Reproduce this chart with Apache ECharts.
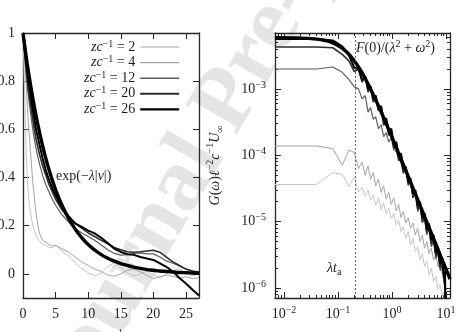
<!DOCTYPE html>
<html>
<head>
<meta charset="utf-8">
<script src="https://cdn.jsdelivr.net/npm/echarts@6/dist/echarts.min.js"></script>
<style>
  html, body { margin: 0; padding: 0; background: #fff; }
  #chart { width: 474px; height: 332px; }
</style>
</head>
<body>
<div id="chart"></div>
<script>
// ---- left panel: correlation vs |nu| ----
const lag = [0, 0.25, 0.5, 0.75, 1, 1.5, 2, 2.5, 3, 3.5, 4, 4.5, 5, 6, 7, 8, 9, 10, 11, 12, 13, 14, 15,
  16, 17, 18, 19, 20, 21, 22, 23, 24, 25, 26, 27];
const expDecay = [1, 0.949, 0.9, 0.854, 0.811, 0.73, 0.657, 0.592, 0.533, 0.479, 0.432, 0.389, 0.35,
  0.284, 0.23, 0.186, 0.151, 0.122, 0.099, 0.08, 0.065, 0.053, 0.043, 0.035, 0.028, 0.023, 0.018,
  0.015, 0.012, 0.01, 0.008, 0.006, 0.005, 0.004, 0.003];
const corrZc2 = [1, 0.75, 0.5, 0.36, 0.28, 0.2, 0.16, 0.135, 0.125, 0.118, 0.11, 0.108, 0.12,
  0.095, 0.075, 0.045, 0.022, 0.005, -0.008, 0.004, 0.03, 0.046, 0.025, 0.004, -0.008, 0.0, 0.012,
  -0.004, -0.015, 0.0, 0.015, 0.02, 0.005, -0.01, 0.003];
const corrZc4 = [1, 0.9, 0.78, 0.66, 0.56, 0.38, 0.25, 0.17, 0.14, 0.13, 0.122, 0.115, 0.118,
  0.105, 0.09, 0.07, 0.05, 0.035, 0.02, 0.01, -0.005, -0.01, 0.0, 0.015, 0.02, 0.008, -0.005,
  -0.02, -0.012, -0.005, -0.01, -0.018, -0.012, -0.02, -0.015];
const corrZc12 = [1, 0.91, 0.83, 0.76, 0.7, 0.6, 0.52, 0.46, 0.41, 0.37, 0.34, 0.31, 0.285,
  0.245, 0.215, 0.19, 0.17, 0.155, 0.14, 0.12, 0.1, 0.085, 0.078, 0.08, 0.085, 0.087, 0.083,
  0.083, 0.07, 0.054, 0.044, 0.033, 0.02, 0.01, 0.004];
const corrZc20 = [1, 0.92, 0.85, 0.78, 0.73, 0.64, 0.56, 0.5, 0.45, 0.41, 0.37, 0.34, 0.31,
  0.265, 0.235, 0.21, 0.19, 0.17, 0.155, 0.14, 0.125, 0.11, 0.1, 0.092, 0.09, 0.092, 0.095,
  0.098, 0.09, 0.07, 0.05, 0.035, 0.02, 0.012, 0.008];
const corrZc26 = [1, 0.94, 0.88, 0.82, 0.77, 0.68, 0.6, 0.54, 0.48, 0.43, 0.39, 0.355, 0.325,
  0.275, 0.24, 0.21, 0.195, 0.18, 0.168, 0.15, 0.128, 0.105, 0.091, 0.082, 0.079, 0.07, 0.064,
  0.058, 0.044, 0.029, 0.01, -0.017, -0.04, -0.066, -0.09];
const lagTicks = [0, 5, 10, 15, 20, 25];
const corrTicks = [0, 0.2, 0.4, 0.6, 0.8, 1];

// ---- right panel: spectrum G(omega) (stored as log10 values) ----
const omega = [0.0068, 0.04, 0.08, 0.12, 0.16, 0.2, 0.24, 0.28, 0.32, 0.36, 0.4, 0.45, 0.5, 0.56,
  0.63, 0.7, 0.78, 0.87, 0.97, 1.08, 1.2, 1.33, 1.47, 1.62, 1.8, 2.0, 2.2, 2.45, 2.7, 3.0, 3.3,
  3.65, 4.0, 4.4, 4.85, 5.35, 5.9, 6.5, 7.1, 7.8, 8.5, 9.2, 9.6, 10.0];
const specZc2 = [-4.44, -4.44, -4.26, -4.29, -4.47, -4.32, -4.55, -4.48, -4.62, -4.52, -4.68, -4.60,
  -4.75, -4.65, -4.82, -4.72, -4.88, -4.80, -4.95, -4.88, -5.05, -4.98, -5.15, -5.08, -5.25, -5.15,
  -5.35, -5.25, -5.45, -5.38, -5.58, -5.48, -5.68, -5.60, -5.80, -5.70, -5.90, -5.82, -6.02, -5.95,
  -6.12, -6.05, -6.50, -7];
const specZc4 = [-3.86, -3.86, -3.90, -4.15, -3.92, -3.96, -4.20, -4.10, -4.30, -4.16, -4.36, -4.26,
  -4.46, -4.36, -4.56, -4.46, -4.66, -4.56, -4.74, -4.64, -4.84, -4.74, -4.94, -4.84, -5.02, -4.94,
  -5.10, -5.02, -5.20, -5.10, -5.30, -5.20, -5.40, -5.30, -5.48, -5.40, -5.58, -5.50, -5.68, -5.58,
  -5.78, -5.68, -6.10, -7];
const specZc12 = [-2.70, -2.70, -2.67, -2.75, -2.86, -2.97, -3.00, -3.15, -3.10, -3.35, -3.28, -3.46,
  -3.42, -3.60, -3.54, -3.72, -3.66, -3.80, -3.74, -3.92, -3.94, -4.05, -4.12, -4.25, -4.22, -4.40,
  -4.42, -4.62, -4.58, -4.85, -4.76, -5.02, -4.95, -5.20, -5.12, -5.38, -5.30, -5.56, -5.48, -5.74,
  -5.66, -5.95, -5.85, -7];
const specZc20 = [-2.37, -2.37, -2.38, -2.48, -2.58, -2.74, -2.70, -2.90, -2.80, -3.05, -2.98, -3.20,
  -3.12, -3.33, -3.26, -3.55, -3.48, -3.70, -3.62, -3.90, -3.84, -4.08, -4.00, -4.27, -4.20, -4.45,
  -4.38, -4.64, -4.56, -4.82, -4.73, -5.00, -4.90, -5.16, -5.08, -5.34, -5.25, -5.52, -5.43, -5.70,
  -5.60, -5.90, -5.80, -7];
const specZc26 = [-2.25, -2.25, -2.27, -2.36, -2.50, -2.68, -2.70, -2.86, -2.82, -3.00, -2.96, -3.15,
  -3.10, -3.30, -3.26, -3.48, -3.44, -3.64, -3.60, -3.84, -3.80, -4.02, -3.97, -4.21, -4.17, -4.40,
  -4.35, -4.58, -4.52, -4.76, -4.70, -4.94, -4.87, -5.12, -5.03, -5.28, -5.20, -5.47, -5.38, -5.64,
  -5.55, -5.84, -5.74, -7];
// Lorentzian F(0)/(lambda^2 + omega^2)
const omegaFit = [0.0068, 0.02, 0.04, 0.06, 0.08, 0.1, 0.12, 0.14, 0.16, 0.18, 0.2, 0.24, 0.28, 0.32,
  0.36, 0.4, 0.5, 0.6, 0.7, 0.8, 1, 1.25, 1.6, 2, 2.5, 3.2, 4, 5, 6.3, 8, 10, 11.9];
const lorentzFit = [5.89e-3, 5.83e-3, 5.63e-3, 5.32e-3, 4.94e-3, 4.52e-3, 4.10e-3, 3.69e-3, 3.31e-3,
  2.96e-3, 2.65e-3, 2.14e-3, 1.74e-3, 1.43e-3, 1.19e-3, 1.00e-3, 6.83e-4, 4.91e-4, 3.69e-4, 2.87e-4,
  1.87e-4, 1.21e-4, 7.44e-5, 4.79e-5, 3.07e-5, 1.88e-5, 1.20e-5, 7.71e-6, 4.86e-6, 3.01e-6,
  1.93e-6, 1.36e-6];
const lambdaTa = 0.213;

const seriesNames = ['zc=2', 'zc=4', 'zc=12', 'zc=20', 'zc=26'];
const seriesColors = ['#c6c6c6', '#a4a4a4', '#5e5e5e', '#2e2e2e', '#000000'];
const seriesWidths = [1, 1, 1.2, 1.6, 2];
const corrSets = [corrZc2, corrZc4, corrZc12, corrZc20, corrZc26];
const specSets = [specZc2, specZc4, specZc12, specZc20, specZc26];

// log-axis extents (decades)
const wLogMin = -2.166, wLogMax = 1.074;
const gLogMin = -6.15, gLogMax = -2.158;

const SERIF = 'Liberation Serif';
const TXT = '#1e1e1e';
const AXIS = '#262626';

function minorLogTicks(lo, hi) {
  const out = [];
  for (let d = Math.floor(lo); d <= Math.ceil(hi); d++) {
    for (let k = 2; k <= 9; k++) {
      const v = d + Math.log10(k);
      if (v > lo && v < hi) out.push(v);
    }
  }
  return out;
}
const minorW = minorLogTicks(wLogMin, wLogMax);
const minorG = minorLogTicks(gLogMin, gLogMax);

const supRich = {
  b: { fontFamily: SERIF, fontSize: 14, lineHeight: 18, color: TXT },
  s: { fontFamily: SERIF, fontSize: 10, lineHeight: 10, verticalAlign: 'top', color: TXT }
};
function decadeLabel(v) {
  const e = Math.log10(v);
  const r = Math.round(e);
  if (Math.abs(e - r) > 1e-6) return '';
  return '{b|10}{s|' + (r < 0 ? '\u2212' + (-r) : r) + '}';
}

const frameLine = { show: true, onZero: false, lineStyle: { color: AXIS, width: 1.3 } };
const labelFont = { fontFamily: SERIF, fontSize: 14, color: TXT };

function linearX(pos, withLabels) {
  return {
    type: 'value', gridIndex: 0, position: pos, min: 0, max: 27,
    axisLine: frameLine, splitLine: { show: false },
    axisTick: { show: true, inside: true, length: 6, customValues: lagTicks, lineStyle: { color: AXIS } },
    axisLabel: withLabels ? Object.assign({ customValues: lagTicks, margin: 9 }, labelFont) : { show: false }
  };
}
function linearY(pos, withLabels) {
  return {
    type: 'value', gridIndex: 0, position: pos, min: -0.1, max: 1,
    axisLine: frameLine, splitLine: { show: false },
    axisTick: { show: true, inside: true, length: 6, customValues: corrTicks, lineStyle: { color: AXIS } },
    axisLabel: withLabels ? Object.assign({ customValues: corrTicks, margin: 8 }, labelFont) : { show: false }
  };
}
function logAxis(dim, pos, withLabels, lo, hi) {
  return {
    type: 'log', logBase: 10, gridIndex: 1, position: pos,
    min: Math.pow(10, lo), max: Math.pow(10, hi),
    axisLine: frameLine, splitLine: { show: false }, minorTick: { show: false },
    axisTick: { show: true, inside: true, length: 6, lineStyle: { color: AXIS } },
    axisLabel: withLabels ? { margin: dim === 'x' ? 7 : 9, formatter: decadeLabel, rich: supRich } : { show: false }
  };
}
function minorAxis(pos, lo, hi, vals) {
  return {
    type: 'value', gridIndex: 1, position: pos, min: lo, max: hi,
    axisLine: { show: false, onZero: false }, splitLine: { show: false }, axisLabel: { show: false },
    axisTick: { show: true, inside: true, length: 3, customValues: vals, lineStyle: { color: AXIS } }
  };
}

const xAxes = [
  linearX('bottom', true), linearX('top', false),
  logAxis('x', 'bottom', true, wLogMin, wLogMax), logAxis('x', 'top', false, wLogMin, wLogMax),
  minorAxis('bottom', wLogMin, wLogMax, minorW), minorAxis('top', wLogMin, wLogMax, minorW)
];
xAxes[0].name = '{i|\u03bd t}{s|\u22121}';
xAxes[0].nameLocation = 'middle';
xAxes[0].nameGap = 30;
xAxes[0].nameTextStyle = { rich: {
  i: { fontFamily: SERIF, fontStyle: 'italic', fontSize: 14, lineHeight: 18, color: TXT },
  s: { fontFamily: SERIF, fontSize: 10, lineHeight: 10, verticalAlign: 'top', color: TXT } } };
xAxes[2].name = '{i|\u03c9 t}';
xAxes[2].nameLocation = 'middle';
xAxes[2].nameGap = 30;
xAxes[2].nameTextStyle = { rich: {
  i: { fontFamily: SERIF, fontStyle: 'italic', fontSize: 14, lineHeight: 18, color: TXT } } };

const yAxes = [
  linearY('left', true), linearY('right', false),
  logAxis('y', 'left', true, gLogMin, gLogMax), logAxis('y', 'right', false, gLogMin, gLogMax),
  minorAxis('left', gLogMin, gLogMax, minorG), minorAxis('right', gLogMin, gLogMax, minorG)
];
yAxes[2].name = '{i|G}{r|(}{i|\u03c9}{r|)}{i|\u2113}{s|\u22122}{i|c}{s|\u22121}{i|U}{d|\u221e}';
yAxes[2].nameLocation = 'middle';
yAxes[2].nameGap = 50;
yAxes[2].nameRotate = 90;
yAxes[2].nameTextStyle = { rich: {
  i: { fontFamily: SERIF, fontStyle: 'italic', fontSize: 14, lineHeight: 20, color: TXT },
  r: { fontFamily: SERIF, fontSize: 14, lineHeight: 20, color: TXT },
  s: { fontFamily: SERIF, fontSize: 10, lineHeight: 10, verticalAlign: 'top', color: TXT },
  d: { fontFamily: SERIF, fontSize: 10, lineHeight: 10, verticalAlign: 'bottom', color: TXT } } };

const series = [];
seriesNames.forEach((name, k) => {
  series.push({
    name, type: 'line', xAxisIndex: 0, yAxisIndex: 0, showSymbol: false, symbol: 'none',
    clip: true, silent: true,
    lineStyle: { color: seriesColors[k], width: seriesWidths[k] },
    itemStyle: { color: seriesColors[k] },
    data: lag.map((x, i) => [x, corrSets[k][i]])
  });
});
series.push({
  name: 'exp', type: 'line', xAxisIndex: 0, yAxisIndex: 0, showSymbol: false, symbol: 'none',
  smooth: true, clip: true, silent: true,
  lineStyle: { color: '#000', width: 3.4 },
  data: lag.map((x, i) => [x, expDecay[i]])
});
seriesNames.forEach((name, k) => {
  series.push({
    name, type: 'line', xAxisIndex: 2, yAxisIndex: 2, showSymbol: false, symbol: 'none',
    clip: true, silent: true,
    lineStyle: { color: seriesColors[k], width: seriesWidths[k] },
    itemStyle: { color: seriesColors[k] },
    data: omega.map((w, i) => [w, Math.pow(10, specSets[k][i])])
  });
});
series.push({
  name: 'lorentz', type: 'line', xAxisIndex: 2, yAxisIndex: 2, showSymbol: false, symbol: 'none',
  smooth: true, clip: true, silent: true,
  lineStyle: { color: '#000', width: 3.4 },
  data: omegaFit.map((w, i) => [w, lorentzFit[i]]),
  markLine: {
    silent: true, symbol: 'none', label: { show: false },
    lineStyle: { color: '#555', width: 0.9, type: [2, 2] },
    data: [{ xAxis: lambdaTa }]
  }
});

// legend swatch: a horizontal bar of the series' line width, centred in a 40x14 box
function swatch(t) {
  const a = 7 - t / 2, b = 7 + t / 2;
  return 'path://M0,0L0.01,0M0,' + a + 'L40,' + a + 'L40,' + b + 'L0,' + b + 'ZM0,14L0.01,14';
}

const mathRich = {
  r: { fontFamily: SERIF, fontSize: 14, lineHeight: 18, fill: TXT, color: TXT },
  i: { fontFamily: SERIF, fontSize: 14, lineHeight: 18, fontStyle: 'italic', fill: TXT, color: TXT },
  s: { fontFamily: SERIF, fontSize: 10, lineHeight: 10, verticalAlign: 'top', fill: TXT, color: TXT },
  d: { fontFamily: SERIF, fontSize: 10, lineHeight: 10, verticalAlign: 'bottom', fill: TXT, color: TXT }
};

const option = {
  animation: false,
  backgroundColor: '#fff',
  grid: [
    { left: 23, top: 33, width: 176, height: 265, outerBoundsMode: 'none' },
    { left: 275, top: 33, width: 175, height: 265, outerBoundsMode: 'none' }
  ],
  xAxis: xAxes,
  yAxis: yAxes,
  legend: {
    data: seriesNames.map((name, k) => ({ name, icon: swatch(seriesWidths[k] + 0.3) })),
    orient: 'vertical', left: 79, top: 34,
    align: 'right', itemWidth: 39, itemHeight: 14, itemGap: 0.6,
    selectedMode: false,
    itemStyle: { borderWidth: 0 },
    formatter: name => '{i|zc}{s|\u22121}{n| = ' + name.split('=')[1] + '}',
    textStyle: {
      width: 56, fontFamily: SERIF, fontSize: 14, color: TXT,
      rich: {
        i: { fontFamily: SERIF, fontStyle: 'italic', fontSize: 14, lineHeight: 16, align: 'right', color: TXT },
        s: { fontFamily: SERIF, fontSize: 10, lineHeight: 10, verticalAlign: 'top', align: 'right', color: TXT },
        n: { fontFamily: SERIF, fontSize: 14, lineHeight: 16, align: 'right', color: TXT }
      }
    }
  },
  graphic: [
    {
      type: 'text', silent: true, z: 0, x: 54, y: 404, rotation: 60 * Math.PI / 180,
      style: { text: 'Journal Pre-proof', fontFamily: SERIF, fontWeight: 'bold', fontSize: 90,
        fill: '#dedede', opacity: 0.8, textVerticalAlign: 'middle' }
    },
    {
      type: 'text', silent: true, z: 10, x: 56, y: 176,
      style: { text: '{r|exp(\u2212}{i|\u03bb}{r||}{i|\u03bd}{r||)}', rich: mathRich, textVerticalAlign: 'middle' }
    },
    {
      type: 'text', silent: true, z: 10, x: 356, y: 48,
      style: { text: '{i|F}{r|(0)/(}{i|\u03bb}{s|2}{r| + }{i|\u03c9}{s|2}{r|)}', rich: mathRich, textVerticalAlign: 'middle' }
    },
    {
      type: 'text', silent: true, z: 10, x: 327, y: 268,
      style: { text: '{i|\u03bbt}{d|a}', rich: mathRich, textVerticalAlign: 'middle' }
    }
  ],
  series
};

const chart = echarts.init(document.getElementById('chart'), null, { renderer: 'canvas' });
chart.setOption(option);
</script>
</body>
</html>
